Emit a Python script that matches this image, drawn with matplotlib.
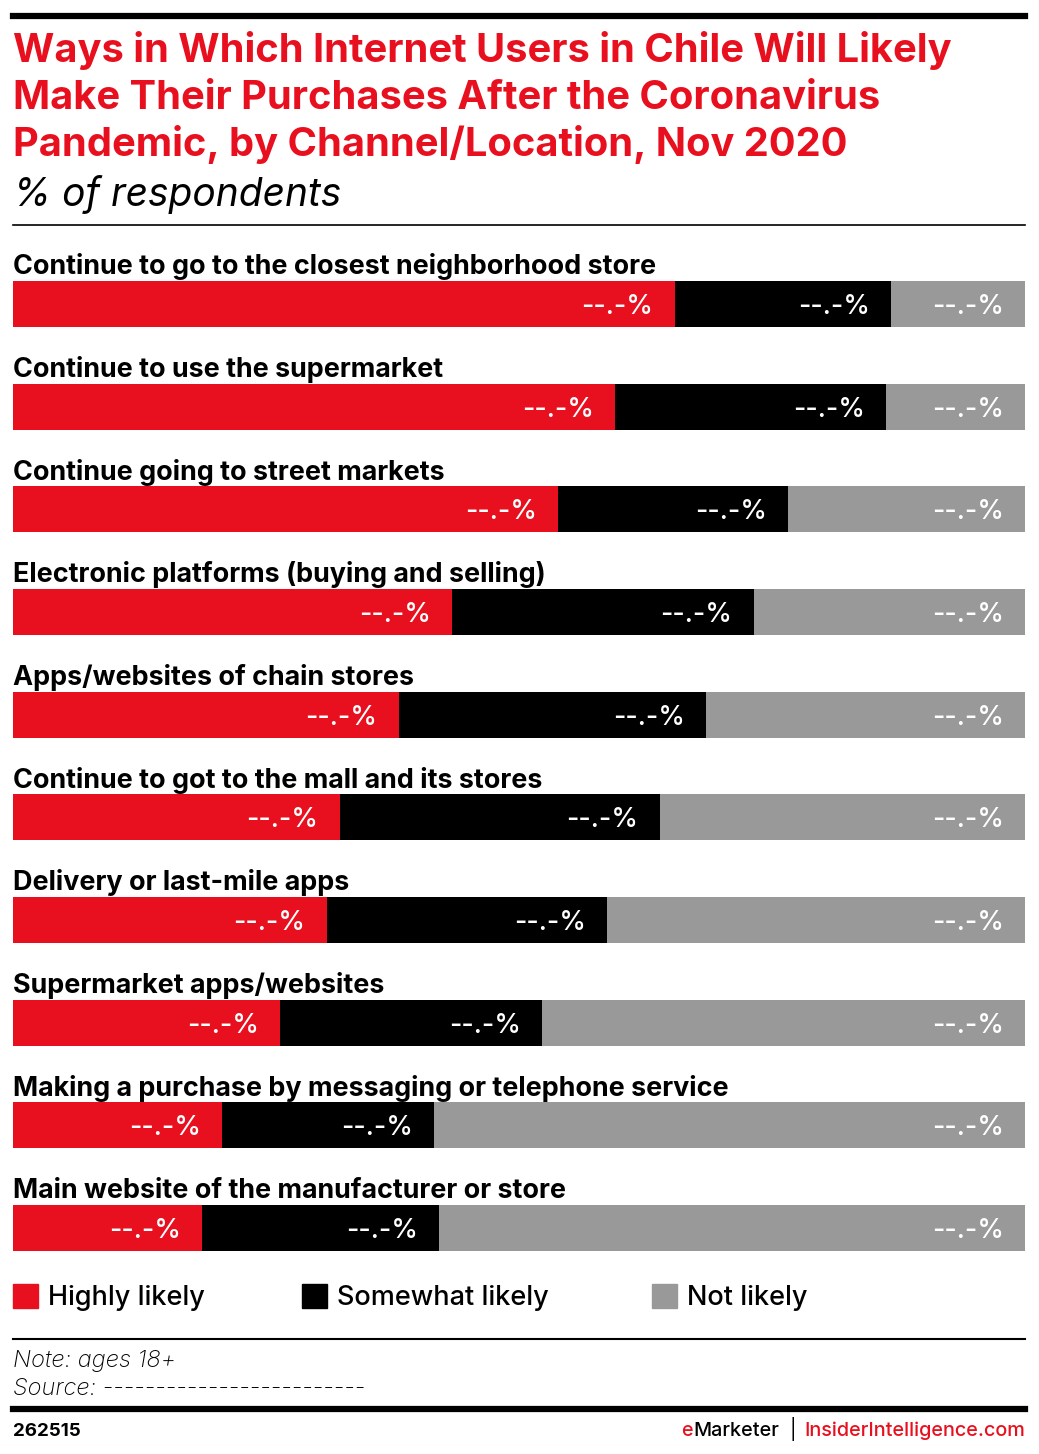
import matplotlib.pyplot as plt
from matplotlib.lines import Line2D
from matplotlib.patches import Rectangle

W, H = 1039, 1454

categories = [
    "Continue to go to the closest neighborhood store",
    "Continue to use the supermarket",
    "Continue going to street markets",
    "Electronic platforms (buying and selling)",
    "Apps/websites of chain stores",
    "Continue to got to the mall and its stores",
    "Delivery or last-mile apps",
    "Supermarket apps/websites",
    "Making a purchase by messaging or telephone service",
    "Main website of the manufacturer or store",
]
highly = [65.4, 59.5, 53.9, 43.4, 38.1, 32.3, 31.0, 26.4, 20.7, 18.7]
somewhat = [21.4, 26.8, 22.7, 29.8, 30.4, 31.6, 27.7, 25.9, 20.9, 23.4]
not_likely = [13.2, 13.7, 23.4, 26.8, 31.5, 36.1, 41.3, 47.7, 58.4, 57.9]
series_names = ["Highly likely", "Somewhat likely", "Not likely"]
colors = ["#e8101e", "#000000", "#999999"]
value_label = "--.-%"

FONT = "Inter"
RED = "#e8101e"


def fx(x):
    return x / W


def fy(y):
    return 1 - y / H


fig = plt.figure(figsize=(W / 100, H / 100), dpi=100)

# bars axes: pixel x 13..1025, y 230..1260
ax = fig.add_axes([fx(13), fy(1260), (1025 - 13) / W, (1260 - 230) / H])
step = 102.67
c0 = 304
ax.set_xlim(0, 100)
ax.set_ylim((1260 - c0) / step, (230 - c0) / step)
ax.axis("off")

bar_h = 46 / step
rows = list(range(len(categories)))
left = [0] * len(categories)
for vals, col in zip([highly, somewhat, not_likely], colors):
    ax.barh(rows, vals, left=left, height=bar_h, color=col, edgecolor="none")
    for i, v in enumerate(vals):
        ax.text(left[i] + v - 2.1, i + 0.03, value_label, ha="right", va="center",
                color="white", fontsize=19.3, family=FONT, fontweight="medium")
    left = [l + v for l, v in zip(left, vals)]

for i, cat in enumerate(categories):
    ax.text(0, i - 0.29, cat, ha="left", va="baseline", fontsize=19.4,
            fontweight="bold", family=FONT)

# title
title_lines = [
    "Ways in Which Internet Users in Chile Will Likely",
    "Make Their Purchases After the Coronavirus",
    "Pandemic, by Channel/Location, Nov 2020",
]
for k, t in enumerate(title_lines):
    fig.text(fx(13), fy(62 + 47 * k), t, ha="left", va="baseline", color=RED,
             fontsize=28.7, fontweight="bold", family=FONT)
fig.text(fx(13), fy(206), "% of respondents", ha="left", va="baseline",
         fontsize=28, style="italic", family=FONT)

# rules
fig.add_artist(Line2D([fx(13), fx(1025)], [fy(16), fy(16)], color="black", lw=4.5))
fig.add_artist(Line2D([fx(13), fx(1025)], [fy(225), fy(225)], color="black", lw=1.2))
fig.add_artist(Line2D([fx(13), fx(1025)], [fy(1338.5), fy(1338.5)], color="black", lw=1.5))
fig.add_artist(Line2D([fx(13), fx(1025)], [fy(1408.5), fy(1408.5)], color="black", lw=4.5))

# legend
leg_x = [13, 302, 652]
for x0, name, col in zip(leg_x, series_names, colors):
    fig.add_artist(Rectangle((fx(x0), fy(1308)), 25 / W, 24 / H, color=col,
                             transform=fig.transFigure))
    fig.text(fx(x0 + 35), fy(1305), name, ha="left", va="baseline",
             fontsize=19.5, family=FONT, fontweight="medium")

# notes
fig.text(fx(13), fy(1367), "Note: ages 18+", ha="left", va="baseline",
         fontsize=17, style="italic", family=FONT, fontweight="light")
fig.text(fx(13), fy(1395), "Source: -------------------------", ha="left",
         va="baseline", fontsize=17, style="italic", family=FONT, fontweight="light")

# footer
fig.text(fx(13), fy(1436), "262515", ha="left", va="baseline", fontsize=13.5,
         fontweight="bold", family=FONT)
fig.text(fx(1025), fy(1436), "InsiderIntelligence.com", ha="right", va="baseline",
         fontsize=14.3, color=RED, family=FONT, fontweight="medium")
fig.text(fx(793), fy(1436), "|", ha="center", va="baseline", fontsize=14.3,
         family=FONT)
mk = fig.text(fx(779), fy(1436), "Marketer", ha="right", va="baseline",
              fontsize=14.3, family=FONT, fontweight="medium")
r = fig.canvas.get_renderer()
bb = mk.get_window_extent(r)
fig.text(bb.x0 / W, fy(1436), "e", ha="right", va="baseline", fontsize=14.3,
         color=RED, family=FONT, fontweight="medium")

fig.savefig("out.png", dpi=100)
